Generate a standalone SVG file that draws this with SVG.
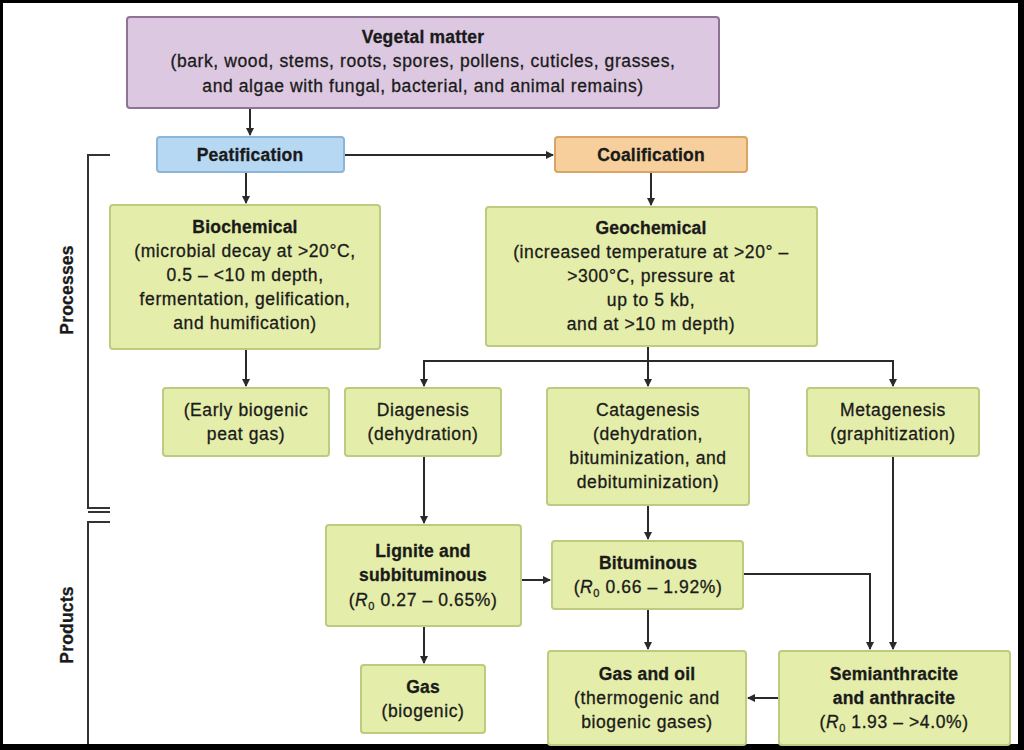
<svg xmlns="http://www.w3.org/2000/svg" width="1024" height="750" viewBox="0 0 1024 750">
<defs>
<marker id="ah" markerWidth="8" markerHeight="8" refX="7" refY="4" orient="auto" markerUnits="userSpaceOnUse"><path d="M0,0 L8,4 L0,8 z" fill="#2a2a2a"/></marker>
<style>
.g{fill:#e4eda9;stroke:#bccb7d;stroke-width:2}
.t{font-family:"Liberation Sans",Arial,sans-serif;font-size:17.5px;letter-spacing:0.6px;fill:#1a1a1a;stroke:#1a1a1a;stroke-width:0.3;text-anchor:middle}
.b{font-weight:bold;letter-spacing:0.2px}
.c{fill:none;stroke:#2a2a2a;stroke-width:2}
.br{fill:none;stroke:#333;stroke-width:2}
</style>
</defs>
<rect width="1024" height="750" fill="#000"/>
<rect x="3" y="3" width="1015" height="741" fill="#fff"/>
<g id="brackets">
<path class="br" d="M110,155 H88 V508 H110"/>
<path class="br" d="M110,512 H88"/>
<path class="br" d="M110,522 H88 V744"/>
<text class="t b" transform="translate(73,290) rotate(-90)" font-size="20">Processes</text>
<text class="t b" transform="translate(73,625) rotate(-90)" font-size="20">Products</text>
</g>
<g id="connectors">
<path class="c" d="M250,108 V135" marker-end="url(#ah)"/>
<path class="c" d="M344,155 H553" marker-end="url(#ah)"/>
<path class="c" d="M246,172 V203" marker-end="url(#ah)"/>
<path class="c" d="M651,172 V205" marker-end="url(#ah)"/>
<path class="c" d="M246,349 V386" marker-end="url(#ah)"/>
<path class="c" d="M648,346 V386" marker-end="url(#ah)"/>
<path class="c" d="M424,386 V361 H893 V386" marker-end="url(#ah)"/>
<path class="c" d="M424,363 V386" marker-end="url(#ah)"/>
<path class="c" d="M424,456 V523" marker-end="url(#ah)"/>
<path class="c" d="M648,505 V539" marker-end="url(#ah)"/>
<path class="c" d="M521,580 H550" marker-end="url(#ah)"/>
<path class="c" d="M424,626 V663" marker-end="url(#ah)"/>
<path class="c" d="M648,609 V649" marker-end="url(#ah)"/>
<path class="c" d="M743,574 H870 V649" marker-end="url(#ah)"/>
<path class="c" d="M893,456 V649" marker-end="url(#ah)"/>
<path class="c" d="M779,698 H748" marker-end="url(#ah)"/>
</g>
<g id="vegetal"><rect x="127" y="17" width="592" height="91" rx="3" fill="#dcc8e0" stroke="#8e7394" stroke-width="2"/>
<text class="t b" x="423" y="43">Vegetal matter</text>
<text class="t" x="423" y="67">(bark, wood, stems, roots, spores, pollens, cuticles, grasses,</text>
<text class="t" x="423" y="92">and algae with fungal, bacterial, and animal remains)</text></g>
<g id="peat"><rect x="157" y="137" width="187" height="35" rx="3" fill="#b6d8f2" stroke="#8cb6d8" stroke-width="2"/>
<text class="t b" x="250" y="161">Peatification</text></g>
<g id="coal"><rect x="555" y="137" width="192" height="35" rx="3" fill="#f6cf9c" stroke="#d9a566" stroke-width="2"/>
<text class="t b" x="651" y="161">Coalification</text></g>
<g id="bio"><rect class="g" x="110" y="205" width="270" height="144" rx="3"/>
<text class="t b" x="245" y="233">Biochemical</text>
<text class="t" x="245" y="257">(microbial decay at &gt;20°C,</text>
<text class="t" x="245" y="281">0.5 – &lt;10 m depth,</text>
<text class="t" x="245" y="305">fermentation, gelification,</text>
<text class="t" x="245" y="329">and humification)</text></g>
<g id="geo"><rect class="g" x="486" y="207" width="331" height="139" rx="3"/>
<text class="t b" x="651" y="234">Geochemical</text>
<text class="t" x="651" y="258">(increased temperature at &gt;20° –</text>
<text class="t" x="651" y="282">&gt;300°C, pressure at</text>
<text class="t" x="651" y="306">up to 5 kb,</text>
<text class="t" x="651" y="330">and at &gt;10 m depth)</text></g>
<g id="early"><rect class="g" x="163" y="388" width="166" height="68" rx="3"/>
<text class="t" x="246" y="416">(Early biogenic</text>
<text class="t" x="246" y="440">peat gas)</text></g>
<g id="diag"><rect class="g" x="345" y="388" width="156" height="68" rx="3"/>
<text class="t" x="423" y="416">Diagenesis</text>
<text class="t" x="423" y="440">(dehydration)</text></g>
<g id="catag"><rect class="g" x="547" y="388" width="202" height="117" rx="3"/>
<text class="t" x="648" y="416">Catagenesis</text>
<text class="t" x="648" y="440">(dehydration,</text>
<text class="t" x="648" y="464">bituminization, and</text>
<text class="t" x="648" y="488">debituminization)</text></g>
<g id="meta"><rect class="g" x="807" y="388" width="172" height="68" rx="3"/>
<text class="t" x="893" y="416">Metagenesis</text>
<text class="t" x="893" y="440">(graphitization)</text></g>
<g id="lignite"><rect class="g" x="326" y="525" width="195" height="101" rx="3"/>
<text class="t b" x="423" y="557">Lignite and</text>
<text class="t b" x="423" y="581">subbituminous</text>
<text class="t" x="423" y="606">(<tspan font-style="italic">R</tspan><tspan font-size="11" dy="4">0</tspan><tspan dy="-4"> 0.27 – 0.65%)</tspan></text></g>
<g id="bitum"><rect class="g" x="552" y="541" width="191" height="68" rx="3"/>
<text class="t b" x="648" y="569">Bituminous</text>
<text class="t" x="648" y="593">(<tspan font-style="italic">R</tspan><tspan font-size="11" dy="4">0</tspan><tspan dy="-4"> 0.66 – 1.92%)</tspan></text></g>
<g id="gas"><rect class="g" x="361" y="665" width="124" height="68" rx="3"/>
<text class="t b" x="423" y="693">Gas</text>
<text class="t" x="423" y="717">(biogenic)</text></g>
<g id="gasoil"><rect class="g" x="548" y="651" width="198" height="94" rx="3"/>
<text class="t b" x="647" y="680">Gas and oil</text>
<text class="t" x="647" y="704">(thermogenic and</text>
<text class="t" x="647" y="728">biogenic gases)</text></g>
<g id="semi"><rect class="g" x="779" y="651" width="231" height="94" rx="3"/>
<text class="t b" x="894" y="680">Semianthracite</text>
<text class="t b" x="894" y="704">and anthracite</text>
<text class="t" x="894" y="728">(<tspan font-style="italic">R</tspan><tspan font-size="11" dy="4">0</tspan><tspan dy="-4"> 1.93 – &gt;4.0%)</tspan></text></g>
</svg>
